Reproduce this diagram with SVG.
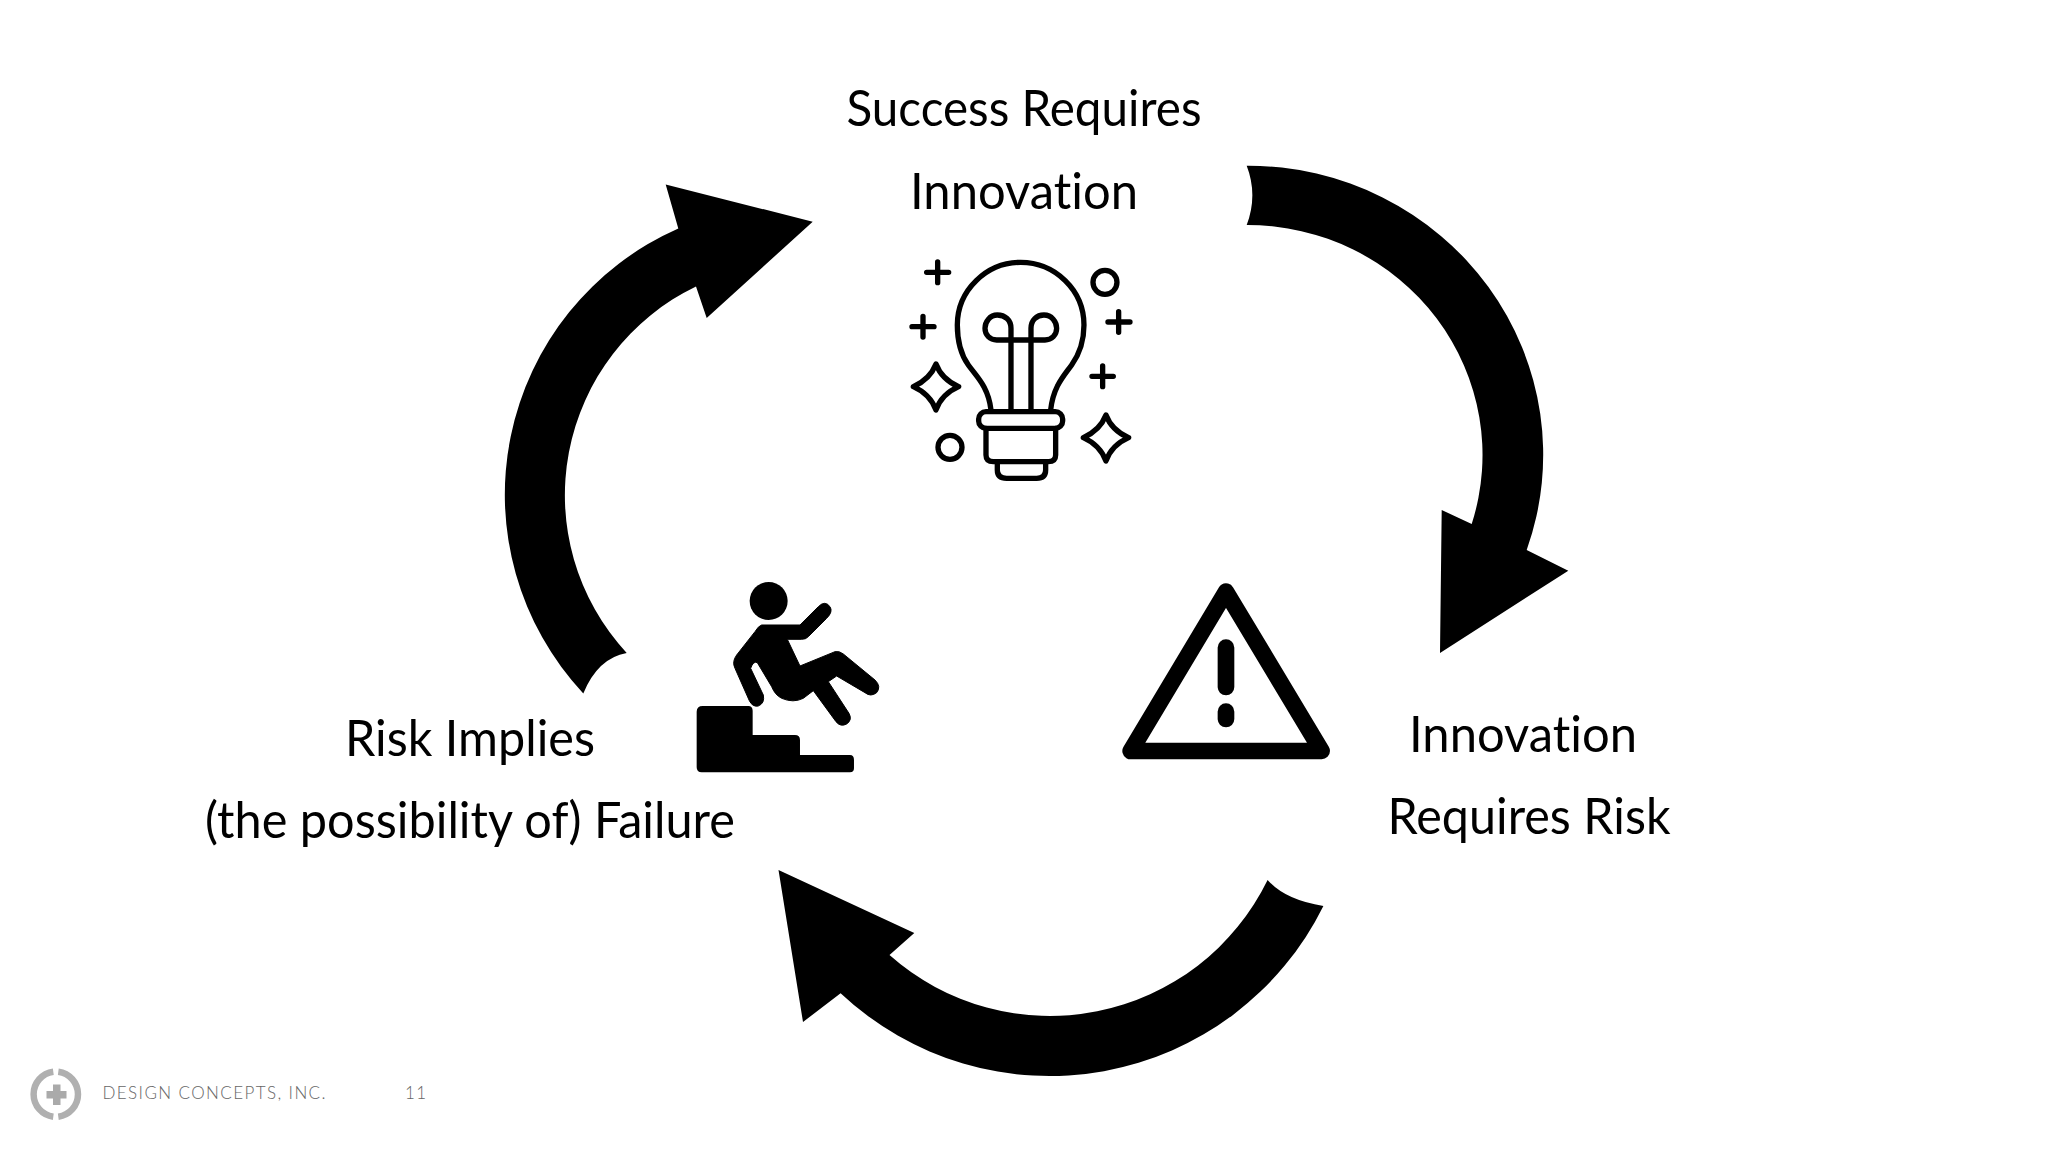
<svg xmlns="http://www.w3.org/2000/svg" width="2048" height="1152" viewBox="0 0 2048 1152">
<style>
.lbl{font-family:"Lato","Liberation Sans",sans-serif;font-size:50px;fill:#000;font-variant-ligatures:none;}
.foot{font-family:"Lato","Liberation Sans",sans-serif;font-size:17px;font-weight:300;fill:#666;font-variant-ligatures:none;}
.ln{fill:none;stroke:#000;stroke-width:16;stroke-linecap:round;stroke-linejoin:round;}
.blk{fill:#000;}
.brd{fill:#000;stroke:#000;stroke-width:3;}
</style>
<rect width="2048" height="1152" fill="#fff"/>
<g id="connectors">
<path id="arrow-right" class="blk" d="M1246.7 165.7 A295 289 0 0 1 1526.7 550 L1568.3 570.7 L1440 653 L1441.7 510 L1471.7 524 A235 230 0 0 0 1246.7 225 Q1258 195 1246.7 165.7Z"/>
<path id="arrow-bottom" class="blk" d="M1267.600 880 A242 242 0 0 1 889.500 955 L914.300 933 L778.500 870 L803 1022 L840.600 993.300 A305.400 305.400 0 0 0 1323.400 906 Q1285 900 1267.600 880Z"/>
<path id="arrow-left" class="blk" d="M583.300 693.400 A290.900 290.900 0 0 1 678.300 228.500 L665.700 184.500 L812.700 221.700 L706.700 318 L696 286.400 A232 232 0 0 0 626.700 653 Q598 658 583.300 693.400Z"/>
</g>
<g id="node-success">
<text class="lbl" x="1024" y="126" text-anchor="middle" textLength="355" lengthAdjust="spacingAndGlyphs">Success Requires</text>
<text class="lbl" x="1024" y="209" text-anchor="middle" textLength="228" lengthAdjust="spacingAndGlyphs">Innovation</text>
<g transform="translate(880 240) scale(.3333)">
<path class="ln" d="M333 510C325 440 290 410 265 375C240 340 232 300 232 255C232 150 320 67 422 67C525 67 612 150 612 255C612 300 600 340 575 375C550 410 520 440 512 510"/>
<path class="ln" d="M393 510V265C393 240 375 225 352 225C330 225 315 245 315 265C315 285 330 300 350 300H495C515 300 530 285 530 265C530 245 515 225 492 225C470 225 453 240 453 265V510"/>
<rect class="ln" x="296" y="515" width="252" height="50" rx="22"/>
<path class="ln" d="M318 565V645Q318 665 340 665H505Q527 665 527 645V565"/>
<path class="ln" d="M352 670V690Q352 715 380 715H470Q497 715 497 690V670"/>
<path class="ln" d="M140 97H206M173 66V128M96 260H162M129 229V291M684 246H750M716 215V277M636 409H700M668 378V440"/>
<circle class="ln" cx="675" cy="127" r="36"/>
<circle class="ln" cx="210" cy="622" r="36"/>
<path class="ln" d="M168 372Q185 418 236 440Q185 462 168 510Q150 462 100 440Q150 418 168 372Z"/>
<path class="ln" d="M678 525Q695 571 746 593Q695 615 678 663Q660 615 610 593Q660 571 678 525Z"/>
</g>
</g>
<g id="node-risk">
<text class="lbl" x="1523" y="752" text-anchor="middle" textLength="228" lengthAdjust="spacingAndGlyphs">Innovation</text>
<text class="lbl" x="1529" y="834" text-anchor="middle" textLength="283" lengthAdjust="spacingAndGlyphs">Requires Risk</text>
<g transform="translate(1100 570) scale(.3333)">
<path d="M378 65L92 543H665Z" fill="none" stroke="#000" stroke-width="50" stroke-linejoin="round"/>
<rect class="blk" x="353" y="208" width="50" height="168" rx="25"/>
<rect class="blk" x="353" y="400" width="50" height="72" rx="25"/>
</g>
</g>
<g id="node-failure">
<text class="lbl" x="470" y="756" text-anchor="middle" textLength="250" lengthAdjust="spacingAndGlyphs">Risk Implies</text>
<text class="lbl" x="470" y="838" text-anchor="middle" textLength="530" lengthAdjust="spacingAndGlyphs">(the possibility of) Failure</text>
<g transform="translate(680 570) scale(.3333)">
<circle class="blk" cx="266" cy="93" r="57"/>
<path class="brd" d="M245 165H360L415 110Q435 90 450 110Q460 125 440 145L385 200Q378 208 365 208H322L360 288L465 245Q478 242 490 252L585 330Q605 350 590 368Q572 382 555 368L470 318L445 335L507 430Q518 450 500 462Q482 472 468 455L400 362L370 385Q340 400 305 385Q285 375 275 350L232 278Q220 272 212 295L250 375Q255 400 235 408Q218 412 208 392L165 295Q155 275 170 255L225 185Q235 168 245 165Z"/>
<path class="blk" d="M50 425Q50 408 68 408H205Q218 408 218 422V495H345Q360 495 360 510V555H510Q522 555 522 570V595Q522 607 510 607H65Q50 607 50 592Z"/>
</g>
</g>
<g id="footer">
<path d="M53.300 1071.700A22.700 22.700 0 0 0 53.300 1116.700M58.300 1071.700A22.700 22.700 0 0 1 58.300 1116.700" fill="none" stroke="#b0b0b0" stroke-width="6.500"/>
<path d="M53 1084.500H60.500V1091H66.500V1098.500H60.500V1105H53V1098.500H46.500V1091H53Z" fill="#aaa"/>
<text class="foot" x="102.500" y="1099" textLength="223">DESIGN CONCEPTS, INC.</text>
<text class="foot" x="405" y="1099" textLength="21">11</text>
</g>
</svg>
